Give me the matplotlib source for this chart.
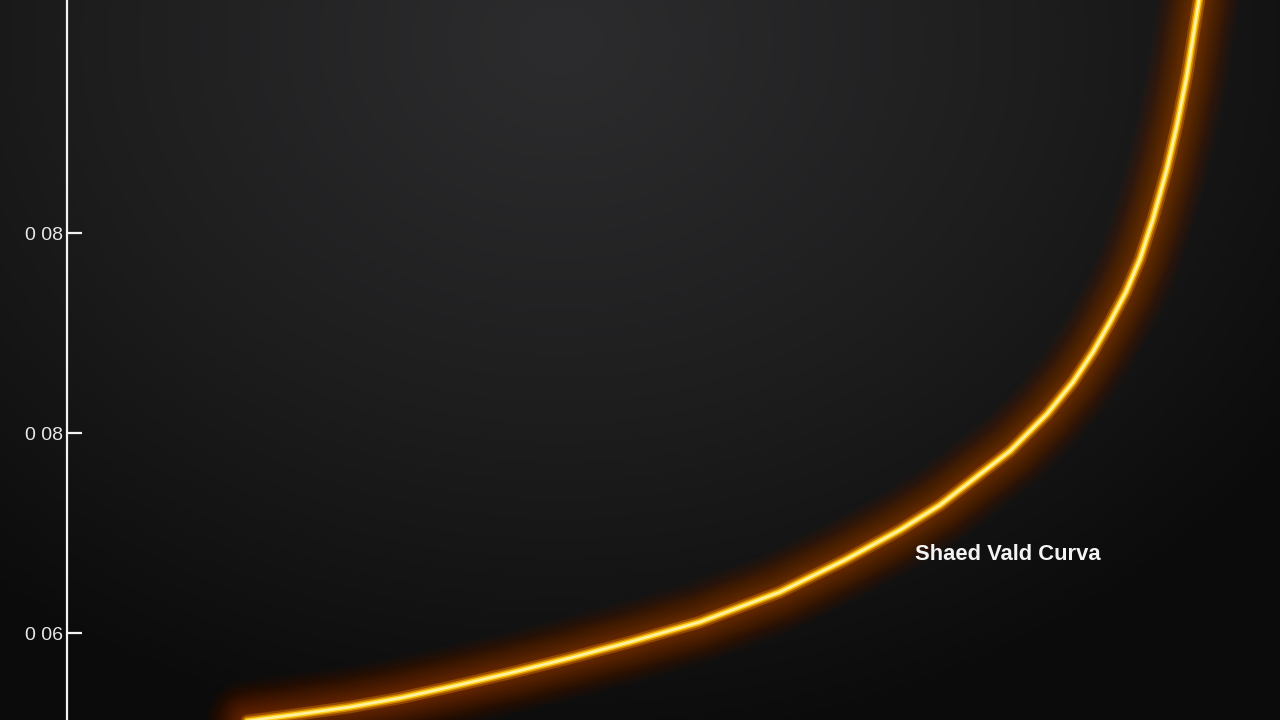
import numpy as np
import matplotlib
matplotlib.use("Agg")
import matplotlib.pyplot as plt
from matplotlib.colors import LinearSegmentedColormap, to_rgb

# ---- data ----
maturity = [1.096, 1.550, 1.921, 2.333, 2.745, 3.157, 3.652, 4.147, 4.641, 5.218,
            5.878, 6.414, 6.867, 7.197, 7.774, 8.079, 8.294, 8.458, 8.599, 8.730,
            8.846, 8.953, 9.068, 9.151, 9.233, 9.283, 9.332, 9.365]
yield_vals = [0.530, 0.565, 0.595, 0.630, 0.675, 0.730, 0.800, 0.875, 0.955, 1.055,
              1.205, 1.365, 1.515, 1.640, 1.910, 2.095, 2.255, 2.405, 2.555, 2.705,
              2.870, 3.070, 3.320, 3.540, 3.790, 3.980, 4.165, 4.315]
ytick_vals = [1, 2, 3]
ytick_labels = ["0 06", "0 08", "0 08"]
label_text = "Shaed Vald Curva"
label_pos = (6.99, 1.39)

W, H = 1280, 720
fig = plt.figure(figsize=(12.8, 7.2), dpi=100)
fig.patch.set_facecolor("#0d0d0d")

# background gradient
bg = fig.add_axes([0, 0, 1, 1], zorder=0)
bg.set_axis_off()
yy, xx = np.mgrid[0:H, 0:W]
d = np.sqrt(((xx - 560) / 900.0) ** 2 + ((yy - 40) / 720.0) ** 2)
v = np.clip(d, 0, 1) ** 1.1
cmap_bg = LinearSegmentedColormap.from_list("bg", ["#2c2c2e", "#1d1d1e", "#0b0b0b"])
bg.imshow(v, cmap=cmap_bg, vmin=0, vmax=1, aspect="auto", extent=[0, 1, 0, 1], origin="upper")
bg.set_xlim(0, 1); bg.set_ylim(0, 1)

left = 67 / W
ax = fig.add_axes([left, 0, 1 - left, 1], zorder=1)
ax.set_facecolor("none")
ax.set_xlim(0, (W - 67) / 121.3)
ax.set_ylim(1 - 87 / 200, 3 + 233 / 200)

kw = dict(solid_capstyle="round", solid_joinstyle="round")
# soft glow: many faint layers
outer = np.array(to_rgb("#ff4a00"))
inner = np.array(to_rgb("#ff9000"))
n = 36
for i, lw in enumerate(np.linspace(60, 4, n)):
    t = i / (n - 1)
    c = outer * (1 - t) + inner * t
    ax.plot(maturity, yield_vals, color=c, lw=lw, alpha=0.010 + 0.012 * t, zorder=2, **kw)
ax.plot(maturity, yield_vals, color="#ff9a00", lw=9, alpha=0.30, zorder=3, **kw)
ax.plot(maturity, yield_vals, color="#ffb400", lw=6, alpha=0.55, zorder=3, **kw)
ax.plot(maturity, yield_vals, color="#ffd21a", lw=3.8, zorder=3, **kw)
ax.plot(maturity, yield_vals, color="#fff2a6", lw=1.8, zorder=4, **kw)

# axes styling
for s in ["top", "right", "bottom"]:
    ax.spines[s].set_visible(False)
ax.spines["left"].set_color("#f2f2f2")
ax.spines["left"].set_linewidth(1.6)
ax.set_xticks([])
ax.set_yticks(ytick_vals)
ax.set_yticklabels(ytick_labels, family=["Liberation Sans", "DejaVu Sans"])
ax.tick_params(axis="y", direction="in", length=11, width=1.6, color="#f2f2f2",
               labelcolor="#e8e8e8", labelsize=14, pad=3)

ax.text(label_pos[0], label_pos[1], label_text, color="#f4f4f4", fontsize=15.8,
        fontweight="bold", family=["Liberation Sans", "DejaVu Sans"],
        ha="left", va="center", zorder=5)

fig.savefig("out.png", dpi=100, facecolor=fig.get_facecolor())
